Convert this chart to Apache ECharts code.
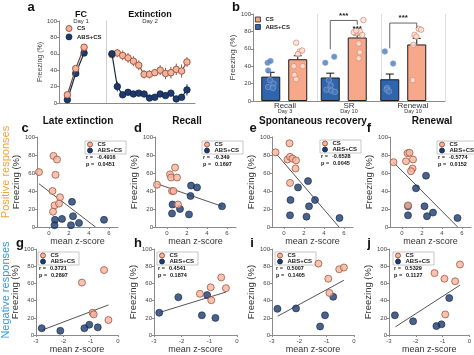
<!DOCTYPE html>
<html><head><meta charset="utf-8">
<script src="https://cdn.jsdelivr.net/npm/echarts/dist/echarts.min.js"></script>
<style>html,body{margin:0;padding:0;background:#fff}#c{width:474px;height:355px}</style>
</head><body><div id="c"></div><script>
// ---------- DATA ----------
// panel a
const fcTrials = [1, 2, 3];
const fcCS = [10, 42, 68];
const fcCSerr = [2, 3, 3];
const fcABS = [4, 36, 61];
const fcABSerr = [2, 3, 3];
const extTrials = [1,2,3,4,5,6,7,8,9,10,11,12,13,14,15];
const extCS = [59, 61, 58, 55, 51, 46, 35, 35, 37, 40, 36, 37, 41, 39, 50];
const extCSerr = [4, 5, 6, 6, 6, 6, 5, 5, 4, 6, 7, 7, 7, 8, 6];
const extABS = [60, 20, 10, 13, 11, 12, 11, 6, 7, 11, 9, 12, 5, 7, 16];
const extABSerr = [3, 6, 3, 3, 2, 2, 3, 2, 2, 2, 3, 3, 2, 2, 7];
// panel b
const phases = ['Recall', 'SR', 'Renewal'];
const phaseDays = ['Day 3', 'Day 10', 'Day 10'];
const barABS = [28, 27, 25];
const barABSerr = [5, 5, 6];
const barCS = [48, 73, 65];
const barCSerr = [4, 3, 7];
const dotsABS = [[-0.28,44],[-0.23,46],[-0.27,35],[-0.24,24],[-0.18,20],[-0.27,16],[-0.19,15],
  [0.69,44],[0.84,51],[0.75,24],[0.71,13],[0.79,12],[0.85,10.5],[0.78,18],
  [1.69,57],[1.83,43],[1.73,15],[1.72,13],[1.76,11]];
const dotsCS = [[0.2,67],[0.26,57],[0.3,58],[0.23,54],[0.31,40],[0.16,40],[0.17,30],[0.2,25],
  [1.33,93],[1.22,78],[1.27,80],[1.17,79],[1.31,76],[1.25,66],[1.27,56],[1.25,49],[1.21,81],
  [2.26,83],[2.3,82],[2.19,76],[2.22,74],[2.17,64.5],[2.16,24]];
const sigBrackets = [[1, 92.6, 59.5, 87.6], [2, 89.6, 60.6, 83.8]];
const sigExtra = [[1, 83]];
// panels c-f (positive responses)
const lateExtCS = [[-1.0,61],[0.45,79],[0.8,75],[0.65,58],[0.35,40],[1.1,33],[0.55,24],[1.0,26],[0.4,17]];
const lateExtABS = [[2.3,28],[2.4,12],[1.3,9],[0.6,8],[0.55,2],[2.2,2],[3.0,4.5],[5.5,8]];
const lateExtFit = [[-1,48],[4.65,0]];
const recallCS = [[-1.0,47],[0.3,58.5],[0.4,55],[0.8,66],[1.0,55],[0.5,40],[0.65,40],[1.1,25]];
const recallABS = [[0.55,25],[0.5,15],[1.3,20],[2.4,46],[3.0,44],[2.35,34.5],[2.2,14],[5.5,23]];
const recallFit = [[-1,48],[5.5,23]];
const srCS = [[-0.85,83],[0.55,93],[0.35,75],[0.6,78],[0.85,76],[1.2,74],[1.15,65],[0.6,49]];
const srABS = [[1.4,44],[2.4,51],[0.65,30],[3.1,30],[2.5,23],[0.6,13],[2.25,11.5],[5.55,10]];
const srFit = [[-0.75,81],[5.5,0]];
const renCS = [[-0.85,72],[0.55,82],[0.75,82.5],[0.4,73],[1.1,75],[1.05,65],[0.9,62],[0.6,24]];
const renABS = [[0.6,23],[2.4,57],[1.4,43],[2.25,23],[0.6,13],[2.5,12],[3.1,16],[5.55,10]];
const renFit = [[-0.87,72],[5.57,0]];
// panels g-j (negative responses)
const negLateCS = [[-1.32,61],[-0.51,75.5],[-0.93,26],[-0.89,24],[-0.35,17.5]];
const negLateABS = [[-2.79,8],[-2.11,5],[-1.23,8],[-1.05,12],[-0.74,9]];
const negLateFit = [[-2.76,6],[-0.35,35]];
const negRecallCS = [[-1.34,48],[-0.95,55.5],[-0.57,67],[-0.4,54.5],[-0.93,40.5]];
const negRecallABS = [[-2.81,26],[-2.12,44],[-1.08,46.5],[-1.27,23],[-0.78,20]];
const negRecallFit = [[-2.78,26.5],[-0.4,50]];
const negSrCS = [[-1.3,83],[-0.54,76.5],[-0.37,78.5],[-0.94,65.5],[-0.9,49]];
const negSrABS = [[-2.8,30.5],[-2.12,31],[-0.76,44.5],[-1.06,23],[-1.24,10]];
const negSrFit = [[-2.79,22],[-0.37,63.7]];
const negRenCS = [[-1.3,72],[-0.93,65.5],[-0.35,82],[-0.53,62.5],[-0.9,24]];
const negRenABS = [[-2.78,23],[-2.1,16],[-0.75,43],[-1.04,12.5],[-1.23,10.5]];
const negRenFit = [[-2.76,9.6],[-0.35,58]];
const rValues = ['-0.4916','-0.349','-0.6528','-0.5774','0.3721','0.4541','0.5007','0.5329'];
const pValues = ['0.0451','0.1697','0.0045','0.0152','0.2897','0.1874','0.1405','0.1127'];
const panelTitles = ['Late extinction','Recall','Spontaneous recovery','Renewal'];
const zTicksPos = [0, 2, 4, 6];

// ---------- STYLE / LAYOUT ----------
const FONT = '"Liberation Sans", Arial, sans-serif';
const CS_FILL = '#f2b49f', CS_EDGE = '#a4583f', ABS_FILL = '#1d3a6b', ABS_EDGE = '#10254a';
const BAR_ABS = '#2f65ac', BAR_CS = '#f7a88a';
const AX = '#8a8a8a';

const scatter = [
  {cs: lateExtCS, abs: lateExtABS, fit: lateExtFit},
  {cs: recallCS, abs: recallABS, fit: recallFit},
  {cs: srCS, abs: srABS, fit: srFit},
  {cs: renCS, abs: renABS, fit: renFit},
  {cs: negLateCS, abs: negLateABS, fit: negLateFit},
  {cs: negRecallCS, abs: negRecallABS, fit: negRecallFit},
  {cs: negSrCS, abs: negSrABS, fit: negSrFit},
  {cs: negRenCS, abs: negRenABS, fit: negRenFit}
];
const sLayout = [
  {g:[37,137,81,90], lg:[85,141], letter:[25,128], letterT:'c', title:[78,121]},
  {g:[155,137,81,90], lg:[202,141], letter:[138,128], letterT:'d', title:[187,121]},
  {g:[272,137,81,90], lg:[320,140], letter:[253,128], letterT:'e', title:[313,121]},
  {g:[390,137,81,90], lg:[437,141], letter:[369,128], letterT:'f', title:[432,121]},
  {g:[36,249,82,90], lg:[38,252], letter:[20,243], letterT:'g'},
  {g:[154,249,83,90], lg:[157,252], letter:[138,243], letterT:'h'},
  {g:[272,249,82,90], lg:[275,252], letter:[252,243], letterT:'i'},
  {g:[389,249,83,90], lg:[393,252], letter:[369,243], letterT:'j'}
];

const grids = [
  {left:59, top:21, width:46, height:82},
  {left:105, top:21, width:90, height:82},
  {left:253, top:14, width:192, height:87},
  {left:254.5, top:14, width:178.5, height:87}
];
sLayout.forEach(l => grids.push({left:l.g[0], top:l.g[1], width:l.g[2], height:l.g[3]}));

const tickLbl = {fontSize:6, color:'#444', margin:2, fontFamily:FONT};
const xAxes = [
  {type:'value', gridIndex:0, min:0, max:5.5, axisLine:{lineStyle:{color:AX}}, axisTick:{show:false}, axisLabel:{show:false}, splitLine:{show:false}},
  {type:'value', gridIndex:1, min:-0.3, max:16.5, axisLine:{lineStyle:{color:AX}}, axisTick:{show:false}, axisLabel:{show:false}, splitLine:{show:false}},
  {type:'category', gridIndex:2, data:phases, axisLine:{lineStyle:{color:AX}}, axisTick:{show:false},
    splitLine:{show:true, lineStyle:{color:'#dcdcdc', width:1}},
    axisLabel:{margin:1, interval:0, formatter:(v,i)=>'{a|'+v+'}\n{b|'+phaseDays[i]+'}',
      rich:{a:{fontSize:8, color:'#333', fontFamily:FONT, lineHeight:7}, b:{fontSize:5.5, color:'#333', fontFamily:FONT, lineHeight:5}}}},
  {type:'category', gridIndex:3, data:phases, show:false},
  {type:'value', gridIndex:3, min:-0.5, max:2.5, show:false}
];
const yAxes = [
  {type:'value', gridIndex:0, min:0, max:100, interval:20, axisLine:{show:true, lineStyle:{color:AX}}, axisTick:{show:true, length:2, lineStyle:{color:AX}},
    axisLabel:tickLbl, splitLine:{show:false}, name:'Freezing (%)', nameLocation:'middle', nameGap:11,
    nameTextStyle:{fontSize:7, color:'#444', fontFamily:FONT}},
  {type:'value', gridIndex:1, min:0, max:100, axisLine:{show:true, lineStyle:{color:'#cfcfcf'}}, axisTick:{show:false}, axisLabel:{show:false}, splitLine:{show:false}},
  {type:'value', gridIndex:2, min:0, max:100, interval:20, axisLine:{show:true, lineStyle:{color:AX}}, axisTick:{show:true, length:2, lineStyle:{color:AX}},
    axisLabel:tickLbl, splitLine:{show:false}, name:'Freezing (%)', nameLocation:'middle', nameGap:14,
    nameTextStyle:{fontSize:8, color:'#444', fontFamily:FONT}},
  {type:'value', gridIndex:3, min:0, max:100, show:false}
];
sLayout.forEach((l, k) => {
  const gi = 4 + k;
  const pos = k < 4;
  const xa = {type:'value', gridIndex:gi, axisLine:{onZero:false, lineStyle:{color:AX}},
    axisTick:{show:true, length:2, lineStyle:{color:AX}}, axisLabel:Object.assign({}, tickLbl, {margin:3}),
    splitLine:{show:false}, name:'mean z-score', nameLocation:'middle', nameGap: pos ? 9 : 8,
    nameTextStyle:{fontSize:9, color:'#333', fontFamily:FONT}};
  if (pos) {
    xa.min = -1.2; xa.max = 6.9;
    xa.axisLabel.customValues = zTicksPos;
    xa.axisTick.customValues = zTicksPos;
  } else {
    xa.min = -3; xa.max = 0; xa.interval = 1;
  }
  xAxes.push(xa);
  yAxes.push({type:'value', gridIndex:gi, min:0, max:100, interval:20, axisLine:{show:true, onZero:false, lineStyle:{color:AX}},
    axisTick:{show:true, length:2, lineStyle:{color:AX}}, axisLabel:tickLbl, splitLine:{show:false},
    name:'Freezing (%)', nameLocation:'middle', nameGap:11, nameTextStyle:{fontSize:9.5, color:'#333', fontFamily:FONT}});
});

function errBars(xi, yi, pts, errs, color, offset, mode, cap) {
  return {type:'custom', name:'err', xAxisIndex:xi, yAxisIndex:yi, silent:true, z:mode === 'up' ? 3 : 1,
    data: pts.map((p, i) => [p[0], p[1], errs[i]]),
    renderItem: (params, api) => {
      const x = api.value(0), y = api.value(1), e = api.value(2);
      const top = api.coord([x, y + e]);
      const bot = api.coord([x, mode === 'up' ? y : y - e]);
      const ox = top[0] + offset;
      const ch = [{type:'line', shape:{x1:ox, y1:top[1], x2:ox, y2:bot[1]}, style:{stroke:color, lineWidth:1}}];
      if (cap) ch.push({type:'line', shape:{x1:ox-cap, y1:top[1], x2:ox+cap, y2:top[1]}, style:{stroke:color, lineWidth:1}});
      return {type:'group', children:ch};
    }};
}

const series = [];
// panel a
const csSym = {color:CS_FILL, borderColor:CS_EDGE, borderWidth:1};
const absSym = {color:ABS_FILL, borderColor:ABS_EDGE, borderWidth:0.8};
series.push(errBars(0,0, fcTrials.map((t,i)=>[t,fcCS[i]]), fcCSerr, '#8a5444', 0, 'sym'));
series.push(errBars(0,0, fcTrials.map((t,i)=>[t,fcABS[i]]), fcABSerr, ABS_FILL, 0, 'sym'));
series.push(errBars(1,1, extTrials.map((t,i)=>[t,extCS[i]]), extCSerr, '#8a5444', 0, 'sym'));
series.push(errBars(1,1, extTrials.map((t,i)=>[t,extABS[i]]), extABSerr, ABS_FILL, 0, 'sym'));
series.push({type:'line', name:'ABS+CS', xAxisIndex:0, yAxisIndex:0, data:fcTrials.map((t,i)=>[t,fcABS[i]]),
  symbol:'circle', symbolSize:6.5, itemStyle:absSym, lineStyle:{color:'#1a2c4a', width:1.2}, z:3});
series.push({type:'line', name:'CS', xAxisIndex:0, yAxisIndex:0, data:fcTrials.map((t,i)=>[t,fcCS[i]]),
  symbol:'circle', symbolSize:6.5, itemStyle:csSym, lineStyle:{color:'#6e4a40', width:1.2}, z:4});
series.push({type:'line', name:'CS', xAxisIndex:1, yAxisIndex:1, data:extTrials.map((t,i)=>[t,extCS[i]]),
  symbol:'circle', symbolSize:6.5, itemStyle:csSym, lineStyle:{color:'#6e4a40', width:1.2}, z:3});
series.push({type:'line', name:'ABS+CS', xAxisIndex:1, yAxisIndex:1, data:extTrials.map((t,i)=>[t,extABS[i]]),
  symbol:'circle', symbolSize:6.5, itemStyle:absSym, lineStyle:{color:'#1a2c4a', width:1.2}, z:4});
// panel b (bars on grid 3, aligned with the visible axes of grid 2)
series.push({type:'bar', name:'ABS+CS', xAxisIndex:3, yAxisIndex:3, data:barABS, barWidth:19, barGap:'42%',
  itemStyle:{color:BAR_ABS, borderColor:'#1b1b1b', borderWidth:1}, z:2});
series.push({type:'bar', name:'CS', xAxisIndex:3, yAxisIndex:3, data:barCS, barWidth:19, barGap:'42%',
  itemStyle:{color:BAR_CS, borderColor:'#1b1b1b', borderWidth:1}, z:2});
series.push(errBars(3,3, phases.map((p,i)=>[p,barABS[i]]), barABSerr, '#111', -13.5, 'up', 4));
series.push(errBars(3,3, phases.map((p,i)=>[p,barCS[i]]), barCSerr, '#111', 13.5, 'up', 4));
series.push({type:'scatter', name:'ABS+CS', xAxisIndex:4, yAxisIndex:3, data:dotsABS, symbolSize:5.5,
  itemStyle:{color:'#4d78b8', borderColor:'#7fa2d4', borderWidth:0.8}, z:5});
series.push({type:'scatter', name:'CS', xAxisIndex:4, yAxisIndex:3, data:dotsCS, symbolSize:5.5,
  itemStyle:{color:'#fbe3d8', borderColor:'#d88f78', borderWidth:1}, z:5});
series.push({type:'custom', name:'sig', xAxisIndex:3, yAxisIndex:3, silent:true, z:6, data:sigBrackets,
  renderItem:(params, api) => {
    const idx = api.value(0);
    const t = api.coord([idx, api.value(1)]);
    const l = api.coord([idx, api.value(2)]);
    const r = api.coord([idx, api.value(3)]);
    const lx = t[0] - 13.5, rx = t[0] + 13.5;
    return {type:'group', children:[
      {type:'polyline', shape:{points:[[lx,l[1]],[lx,t[1]],[rx,t[1]],[rx,r[1]]]}, style:{stroke:'#666', lineWidth:1, fill:null}},
      {type:'text', x:t[0], y:t[1]-1, style:{text:'***', font:'bold 8px '+FONT, fill:'#222', textAlign:'center', textVerticalAlign:'bottom', verticalAlign:'bottom'}}
    ]};
  }});
series.push({type:'custom', name:'sig2', xAxisIndex:3, yAxisIndex:3, silent:true, z:6, data:sigExtra,
  renderItem:(params, api) => {
    const p = api.coord([api.value(0), api.value(1)]);
    return {type:'text', x:p[0]+13.5, y:p[1], style:{text:'***', font:'bold 8px '+FONT, fill:'#222', textAlign:'center', textVerticalAlign:'middle', verticalAlign:'middle'}};
  }});
// scatter panels
scatter.forEach((s, k) => {
  const xi = 5 + k, yi = 4 + k;
  series.push({type:'line', name:'fit', xAxisIndex:xi, yAxisIndex:yi, data:s.fit, showSymbol:false, symbol:'none',
    lineStyle:{color:'#555', width:1}, z:2, silent:true});
  series.push({type:'scatter', name:'ABS+CS', xAxisIndex:xi, yAxisIndex:yi, data:s.abs, symbolSize:7,
    itemStyle:absSym, z:3});
  series.push({type:'scatter', name:'CS', xAxisIndex:xi, yAxisIndex:yi, data:s.cs, symbolSize:7,
    itemStyle:csSym, z:4});
});

// legends
const lgItems = (shape) => [
  {name:'CS', icon:shape, itemStyle: shape==='rect' ? {color:BAR_CS, borderColor:'#222', borderWidth:0.8} : {color:CS_FILL, borderColor:CS_EDGE, borderWidth:1}},
  {name:'ABS+CS', icon:shape, itemStyle: shape==='rect' ? {color:BAR_ABS, borderColor:'#222', borderWidth:0.8} : {color:ABS_FILL, borderColor:ABS_EDGE, borderWidth:0.8}}
];
const lgText = {fontSize:6, fontWeight:'bold', color:'#222', fontFamily:FONT, lineHeight:6};
const legends = [
  {left:65.5, top:25, orient:'vertical', padding:0, itemGap:1.5, itemWidth:6, itemHeight:6, selectedMode:false, textStyle:lgText, data:lgItems('circle')},
  {left:255, top:16.5, orient:'vertical', padding:0, itemGap:1.5, itemWidth:5, itemHeight:5, selectedMode:false, textStyle:lgText, data:lgItems('rect')}
];
sLayout.forEach(l => legends.push({left:l.lg[0], top:l.lg[1], orient:'vertical', padding:[0.5,4,0.5,2], itemGap:0,
  itemWidth:5, itemHeight:5, selectedMode:false, borderColor:'#b9b9b9', borderWidth:0.8, textStyle:lgText, data:lgItems('circle')}));

// graphic texts
function txt(x, y, text, font, extra) {
  return {type:'text', x:x, y:y, silent:true, style:Object.assign({text:text, font:font, fill:'#111', textAlign:'center',
    textVerticalAlign:'middle', verticalAlign:'middle'}, extra || {})};
}
const B = (s) => 'bold ' + s + 'px ' + FONT;
const N = (s) => s + 'px ' + FONT;
const graphics = [
  txt(31, 7, 'a', B(13)), txt(236, 7, 'b', B(13)),
  txt(81, 14.5, 'FC', B(9)), txt(81, 21, 'Day 1', N(6), {fill:'#333'}),
  txt(150, 14.5, 'Extinction', B(9)), txt(150, 21, 'Day 2', N(6), {fill:'#333'}),
  txt(6, 172, 'Positive responses', N(11), {fill:'#f2a33a'}),
  txt(6, 290, 'Negative responses', N(11), {fill:'#3a97d8'})
];
graphics[6].rotation = Math.PI / 2;
graphics[7].rotation = Math.PI / 2;
sLayout.forEach((l, k) => {
  graphics.push(txt(l.letter[0], l.letter[1], l.letterT, B(13)));
  if (l.title) graphics.push(txt(l.title[0], l.title[1], panelTitles[k], B(10)));
  const rx = l.lg[0] + 1, ry = l.lg[1] + 16.5;
  graphics.push(txt(rx, ry, 'r =', B(5.5), {textAlign:'left'}));
  graphics.push(txt(rx + 11, ry, rValues[k], B(5.5), {textAlign:'left'}));
  graphics.push(txt(rx, ry + 6.5, 'p =', B(5.5), {textAlign:'left'}));
  graphics.push(txt(rx + 12, ry + 6.5, pValues[k], B(5.5), {textAlign:'left'}));
});

const chart = echarts.init(document.getElementById('c'), null, {renderer:'canvas'});
chart.setOption({
  backgroundColor:'#fff', animation:false, textStyle:{fontFamily:FONT},
  grid:grids, xAxis:xAxes, yAxis:yAxes, legend:legends, series:series, graphic:graphics
});
</script></body></html>
